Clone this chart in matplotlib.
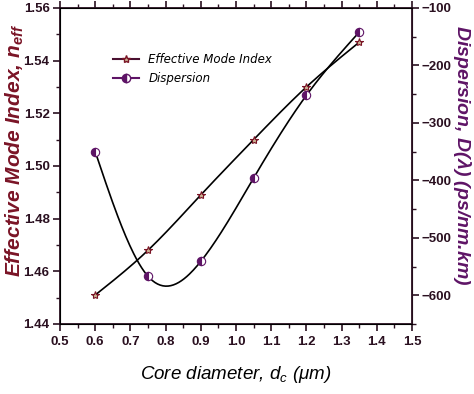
import numpy as np
import matplotlib.pyplot as plt
from matplotlib.ticker import MultipleLocator
from matplotlib.lines import Line2D

# data
core_diameter = [0.6, 0.75, 0.9, 1.05, 1.2, 1.35]
n_eff = [1.451, 1.468, 1.489, 1.510, 1.530, 1.547]
dispersion = [-350, -567, -541, -396, -252, -142]

maroon = '#7a1426'
purple = '#5e1466'
dark = '#2a1020'


def natural_spline(x, y, n=200):
    # smooth connecting line (Origin style spline)
    x = np.asarray(x, float)
    y = np.asarray(y, float)
    k = len(x)
    h = np.diff(x)
    A = np.zeros((k, k))
    b = np.zeros(k)
    A[0, 0] = A[-1, -1] = 1
    for i in range(1, k - 1):
        A[i, i - 1] = h[i - 1]
        A[i, i] = 2 * (h[i - 1] + h[i])
        A[i, i + 1] = h[i]
        b[i] = 6 * ((y[i + 1] - y[i]) / h[i] - (y[i] - y[i - 1]) / h[i - 1])
    m = np.linalg.solve(A, b)
    xs = np.linspace(x[0], x[-1], n)
    idx = np.clip(np.searchsorted(x, xs) - 1, 0, k - 2)
    t = xs - x[idx]
    hi = h[idx]
    a = y[idx]
    bb = (y[idx + 1] - y[idx]) / hi - hi * (2 * m[idx] + m[idx + 1]) / 6
    c = m[idx] / 2
    d = (m[idx + 1] - m[idx]) / (6 * hi)
    return xs, a + bb * t + c * t ** 2 + d * t ** 3


plt.rcParams['font.family'] = ['Liberation Sans', 'DejaVu Sans']
plt.rcParams['font.weight'] = 'bold'
plt.rcParams['mathtext.default'] = 'regular'

fig = plt.figure(figsize=(4.74, 3.94), dpi=100)
ax = fig.add_axes([0.1266, 0.1777, 0.7426, 0.802])
ax2 = ax.twinx()

xs, ys = natural_spline(core_diameter, n_eff)
ax.plot(xs, ys, color='black', lw=1.2)
ax.plot(core_diameter, n_eff, ls='none', marker='*', ms=6, mfc='#c8b090', mec=maroon, mew=0.8)

xs, ds = natural_spline(core_diameter, dispersion)
ax2.plot(xs, ds, color='black', lw=1.2)
ax2.plot(core_diameter, dispersion, ls='none', marker='o', ms=6, fillstyle='left',
         mfc=purple, mfcalt='white', mec=purple, mew=0.8)

ax.set_xlim(0.5, 1.5)
ax2.set_ylim(-650, -100)

ax.xaxis.set_major_locator(MultipleLocator(0.1))
ax.xaxis.set_minor_locator(MultipleLocator(0.05))
ax.yaxis.set_minor_locator(MultipleLocator(0.01))
ax2.yaxis.set_major_locator(MultipleLocator(100))
ax2.yaxis.set_minor_locator(MultipleLocator(50))

yt = [1.44, 1.46, 1.48, 1.50, 1.52, 1.54, 1.56]
ax.set_yticks(yt)
ax.set_yticklabels([f'{v:.2f}' for v in yt])
ax.set_ylim(1.44, 1.56)
ax.tick_params(axis='both', which='major', direction='out', length=5, width=1.2,
               labelsize=9.5, colors=dark, pad=2.5)
ax.tick_params(axis='both', which='minor', direction='out', length=3, width=1, colors=dark)
ax.tick_params(axis='x', which='both', top=True, labeltop=False)
ax.tick_params(axis='x', which='major', pad=4)
ax2.tick_params(axis='y', which='major', direction='out', length=5, width=1.2,
                labelsize=9.5, colors=dark, pad=2)
ax2.tick_params(axis='y', which='minor', direction='out', length=3, width=1, colors=dark)

for s in ['left', 'bottom', 'top']:
    ax.spines[s].set_color(dark)
    ax.spines[s].set_linewidth(1.3)
ax2.spines['right'].set_color(dark)
ax2.spines['right'].set_linewidth(1.3)

ax.set_xlabel(r'Core diameter, $d_c$ ($\mu$m)', fontsize=13.5, style='italic',
              fontweight='normal', color='black', va='center')
ax.xaxis.set_label_coords(0.5, -0.16)
ax.set_ylabel(r'Effective Mode Index, $n_{eff}$', fontsize=15, style='italic',
              fontweight='bold', color=maroon, ha='center', va='center')
ax.yaxis.set_label_coords(-0.128, 0.55)
ax2.set_ylabel(r'Dispersion, D($\lambda$) (ps/nm.km)', fontsize=14, style='italic',
               fontweight='bold', color=purple, rotation=-90, ha='center', va='center')
ax2.yaxis.set_label_coords(1.142, 0.535)

handles = [
    Line2D([], [], color='#4a1030', lw=1.5, marker='*', ms=6, mfc='#c8b090', mec=maroon),
    Line2D([], [], color=purple, lw=1.5, marker='o', ms=6, fillstyle='left',
           mfc=purple, mfcalt='white', mec=purple),
]
ax.legend(handles, ['Effective Mode Index', 'Dispersion'], loc='upper left',
          bbox_to_anchor=(0.12, 0.89), frameon=False, handlelength=2.2,
          prop={'family': 'DejaVu Sans', 'style': 'italic', 'size': 8.5, 'weight': 'normal'})

fig.savefig('out.png', dpi=100)
